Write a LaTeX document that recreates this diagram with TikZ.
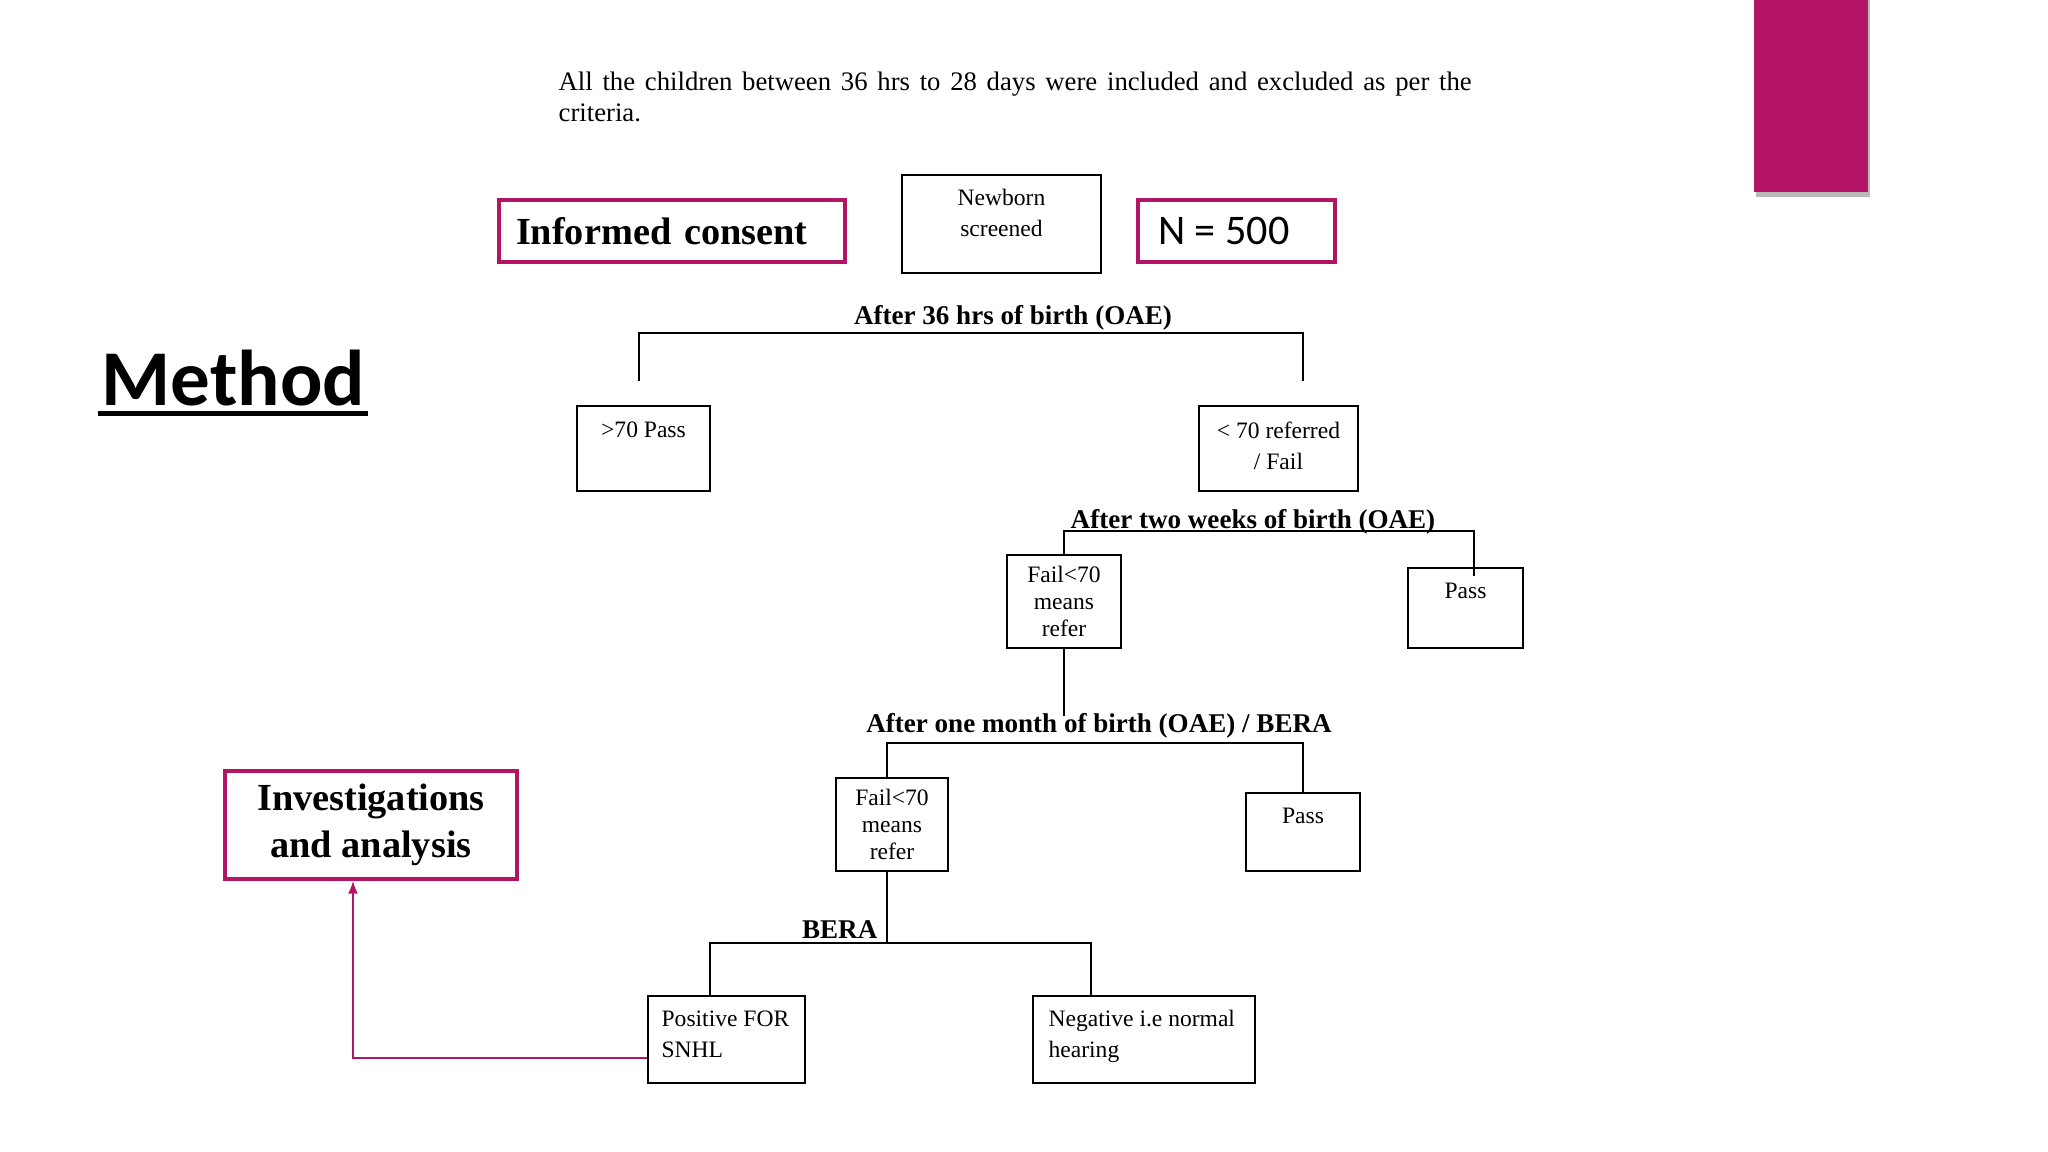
\documentclass[tikz,border=0pt]{standalone}
\usepackage{fontspec}
\setmainfont{Liberation Serif}
\newfontfamily\calibrifont{Carlito}
\usetikzlibrary{positioning,arrows.meta,calc}
\definecolor{accent1}{HTML}{B31564}
\definecolor{accent2}{HTML}{8C8C8C}

\begin{document}
\begin{tikzpicture}[x=1cm,y=-1cm,
  plainbox/.style={draw=black, line width=0.6pt, inner sep=0pt},
  pinkbox/.style={draw=accent1, line width=0.9pt, inner sep=0pt},
  boxtext/.style={font=\fontsize{6.7}{8.8}\selectfont, align=center, inner sep=0pt},
  lefttext/.style={font=\fontsize{6.7}{8.8}\selectfont, align=left, inner sep=0pt},
  steplabel/.style={font=\bfseries\fontsize{7.7}{9}\selectfont, inner sep=0pt},
  link/.style={draw=black, line width=0.6pt},
  pinklink/.style={draw=accent1, line width=0.7pt, -{Latex[length=1.3mm,width=1mm]}}]
\useasboundingbox (0,0) rectangle (20.48,11.52);

% side bar
\fill[accent2!60] (17.56,0) rectangle (18.70,1.97);
\fill[accent1] (17.54,0) rectangle (18.68,1.92);

% title
\node[anchor=base west, inner sep=0pt, font=\calibrifont\bfseries\fontsize{22.5}{26}\selectfont] (method) at (1.01,4.06) {Method};
\draw[line width=1.2pt] ([xshift=-0.03cm,yshift=-0.075cm]method.base west) -- ([xshift=0.02cm,yshift=-0.075cm]method.base east);

% intro
\node[anchor=north west, align=left, inner sep=0pt, font=\fontsize{7.6}{8.9}\selectfont] (intro) at (5.58,0.71)
  {\makebox[9.13cm][s]{All the children between 36 hrs to 28 days were included and excluded as per the}\\criteria.};

% top row
\node[pinkbox, minimum width=3.46cm, minimum height=0.62cm, text width=3.12cm, align=left, font=\bfseries\fontsize{10.9}{13}\selectfont] (consent) at (6.72,2.31) {Informed consent};
\node[plainbox, minimum width=1.99cm, minimum height=0.98cm] (newborn) at (10.015,2.24) {};
\node[boxtext, below=0.15cm of newborn.north] (newborntext) {Newborn\\screened};
\node[pinkbox, minimum width=1.97cm, minimum height=0.62cm] (count) at (12.365,2.31) {};
\node[anchor=west, inner sep=0pt, font=\calibrifont\fontsize{12}{14}\selectfont] (counttext) at ([xshift=0.21cm]count.west) {N = 500};

% after 36 hrs
\node[steplabel] (oae1) at (10.13,3.18) {After 36 hrs of birth (OAE)};
\coordinate (oae1l) at (6.39,3.81);
\coordinate (oae1r) at (13.03,3.81);
\draw[link] (oae1l) -- ++(0,-0.48) -| (oae1r);

\node[plainbox, minimum width=1.33cm, minimum height=0.85cm] (pass0) at (6.435,4.485) {};
\node[boxtext, below=0.16cm of pass0.north] (pass0text) {>70 Pass};
\node[plainbox, minimum width=1.59cm, minimum height=0.85cm] (refer0) at (12.785,4.485) {};
\node[boxtext, below=0.16cm of refer0.north] (refer0text) {< 70 referred\\/ Fail};

% after two weeks
\node[steplabel] (oae2) at (12.53,5.22) {After two weeks of birth (OAE)};
\node[plainbox, align=center, minimum width=1.14cm, minimum height=0.93cm, font=\fontsize{6.7}{7.8}\selectfont] (fail1) at (10.64,6.015) {Fail<70\\means\\refer};
\node[plainbox, minimum width=1.15cm, minimum height=0.80cm] (pass1) at (14.655,6.08) {};
\node[boxtext, below=0.15cm of pass1.north] (pass1text) {Pass};
\coordinate (pass1top) at (14.74,5.76);
\draw[link] (fail1.north) -- ++(0,-0.23) -| (pass1top);

% after one month
\node[steplabel] (oae3) at (10.99,7.26) {After one month of birth (OAE) / BERA};
\coordinate (oae3top) at (10.64,7.16);
\draw[link] (fail1.south) -- (oae3top);

\node[plainbox, align=center, minimum width=1.12cm, minimum height=0.93cm, font=\fontsize{6.7}{7.8}\selectfont] (fail2) at (8.92,8.245) {Fail<70\\means\\refer};
\node[plainbox, minimum width=1.14cm, minimum height=0.78cm] (pass2) at (13.03,8.32) {};
\node[boxtext, below=0.15cm of pass2.north] (pass2text) {Pass};
\draw[link] ([xshift=-0.05cm]fail2.north) -- ++(0,-0.34) -| (pass2.north);

% BERA
\draw[link] ([xshift=-0.05cm]fail2.south) -- ++(0,0.71) coordinate (bera);
\node[steplabel, anchor=base east] (beralabel) at ([xshift=-0.09cm,yshift=0.05cm]bera) {BERA};

\node[plainbox, minimum width=1.57cm, minimum height=0.87cm] (positive) at (7.265,10.395) {};
\node[lefttext, anchor=north west] (positivetext) at ([xshift=0.14cm,yshift=-0.15cm]positive.north west) {Positive FOR\\SNHL};
\node[plainbox, minimum width=2.22cm, minimum height=0.87cm] (negative) at (11.44,10.395) {};
\node[lefttext, anchor=north west] (negativetext) at ([xshift=0.16cm,yshift=-0.15cm]negative.north west) {Negative i.e normal\\hearing};
\draw[link] ([xshift=-0.165cm]positive.north) |- (bera) -| ([xshift=-0.53cm]negative.north);

% investigations
\node[pinkbox, minimum width=2.92cm, minimum height=1.08cm, align=center, font=\bfseries\fontsize{10.9}{13.4}\selectfont] (invest) at (3.71,8.25) {Investigations\\and analysis};
\draw[pinklink] ([yshift=-0.185cm]positive.west) -| ([xshift=-0.18cm]invest.south);
\end{tikzpicture}
\end{document}
